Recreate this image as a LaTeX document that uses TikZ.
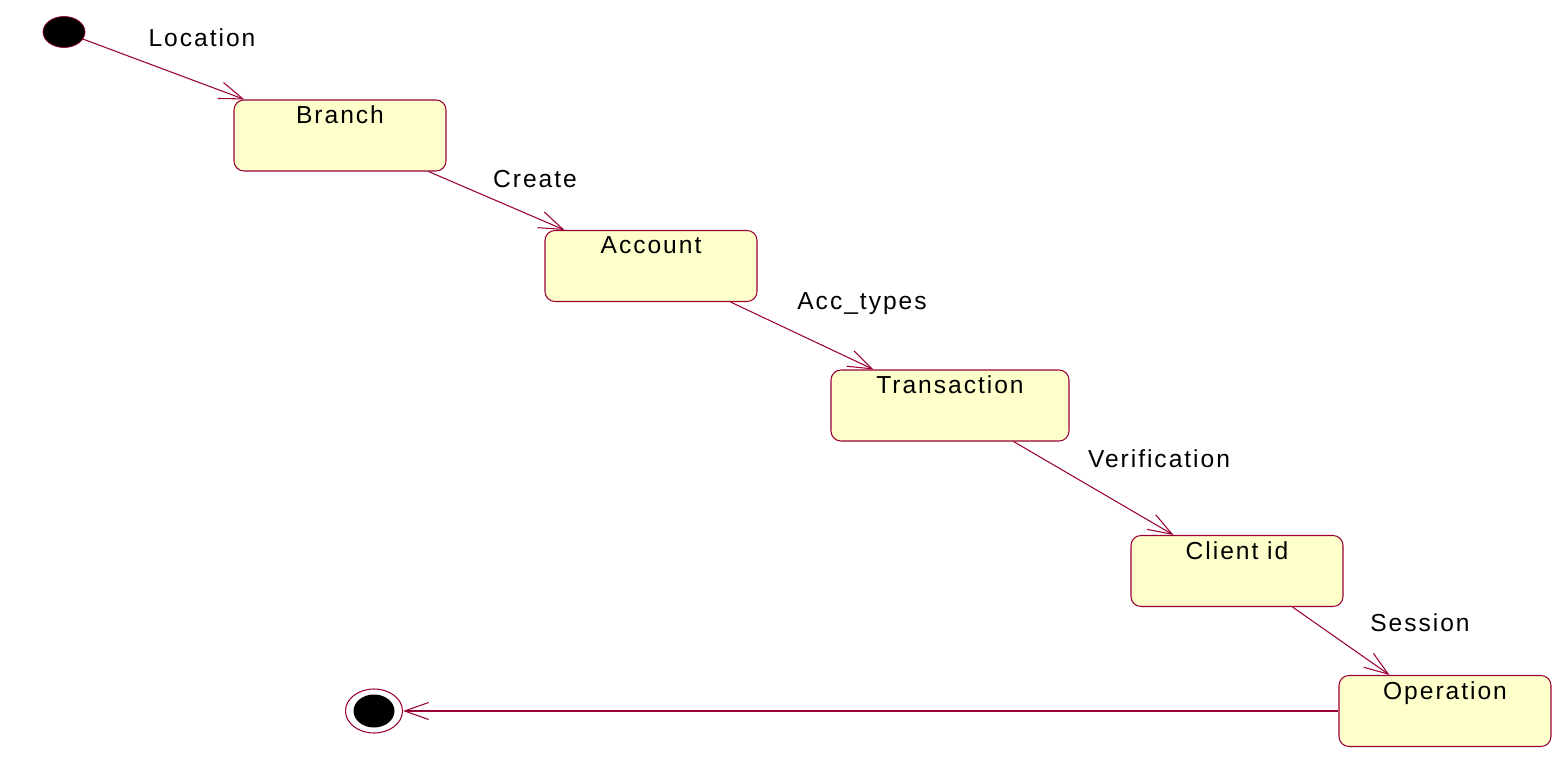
\documentclass[tikz,border=0pt]{standalone}
\usepackage{fontspec}
\usepackage{xcolor}
\newfontfamily\rosefont[LetterSpace=8]{Liberation Sans}
\usetikzlibrary{arrows.meta,shapes.geometric}
\definecolor{roseline}{HTML}{990033}
\definecolor{rosefill}{HTML}{FFFFCC}

\begin{document}
\begin{tikzpicture}[
    state/.style={draw=roseline, fill=rosefill, rounded corners=0.2cm, line width=0.6pt,
        minimum width=4.24cm, inner xsep=0pt, inner ysep=0pt,
        text height=0.47cm, text depth=0.95cm, font=\rosefont\fontsize{14}{16}\selectfont},
    trans/.style={font=\rosefont\fontsize{14}{16}\selectfont, inner sep=0pt},
    >={Straight Barb[length=4.8mm, width=3.4mm]},
    flow/.style={->, draw=roseline, line width=0.6pt},
]
    \useasboundingbox (0, 0) rectangle (31.34, -15.42);

    % start and end
    \node[ellipse, draw=roseline, fill=black, minimum width=0.84cm, minimum height=0.62cm, inner sep=0pt] (start) at (1.28, -0.64) {};
    \node[ellipse, draw=roseline, fill=white, line width=0.6pt, minimum width=1.14cm, minimum height=0.88cm, inner sep=0pt] (final) at (7.48, -14.22) {};
    \node[ellipse, fill=black, minimum width=0.82cm, minimum height=0.66cm, inner sep=0pt] (finaldot) at (7.48, -14.22) {};

    % states
    \node[state] (branch) at (6.80, -2.71) {Branch};
    \node[state] (account) at (13.02, -5.32) {Account};
    \node[state, minimum width=4.76cm] (transaction) at (19.00, -8.11) {Transaction};
    \node[state] (client) at (24.74, -11.42) {Client id};
    \node[state] (operation) at (28.90, -14.22) {Operation};

    % transition labels
    \node[trans] (location) at (4.04, -0.76) {Location};
    \node[trans] (create) at (10.70, -3.58) {Create};
    \node[trans] (acctypes) at (17.24, -6.08) {Acc\_types};
    \node[trans] (verification) at (23.18, -9.18) {Verification};
    \node[trans] (session) at (28.40, -12.46) {Session};

    \draw[flow] (start) -- ([xshift=0.22cm]branch.north west);
    \draw[flow] ([xshift=-0.36cm]branch.south east) -- ([xshift=0.4cm]account.north west);
    \draw[flow] ([xshift=-0.54cm]account.south east) -- ([xshift=0.86cm]transaction.north west);
    \draw[flow] ([xshift=-1.12cm]transaction.south east) -- ([xshift=0.86cm]client.north west);
    \draw[flow] ([xshift=-1.02cm]client.south east) -- ([xshift=1.02cm]operation.north west);
    \draw[flow] (operation.west) -- (final);
\end{tikzpicture}
\end{document}
